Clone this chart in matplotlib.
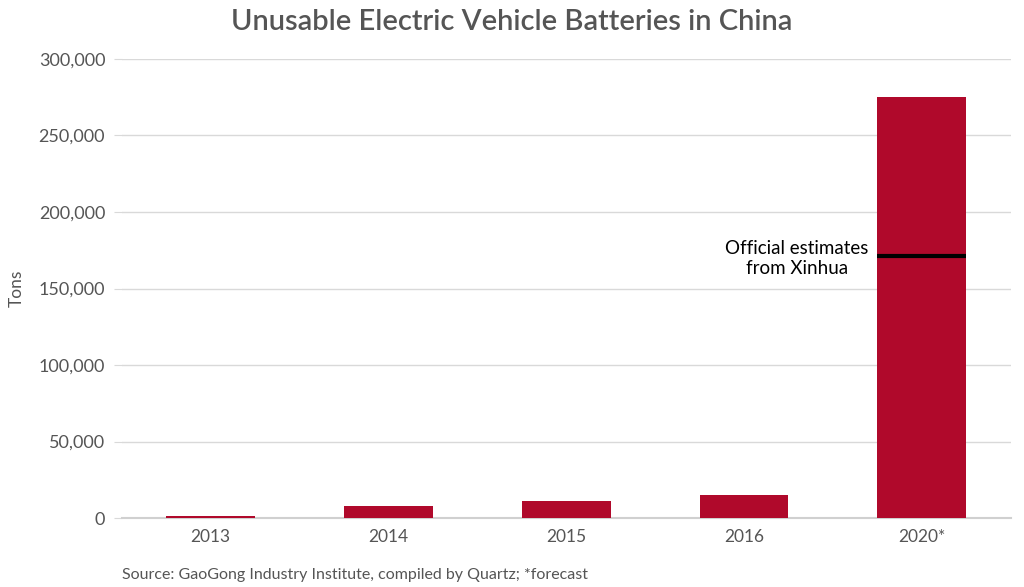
import matplotlib
matplotlib.use("Agg")
import matplotlib.pyplot as plt
from matplotlib.ticker import FuncFormatter

plt.rcParams['font.family'] = ['Lato', 'DejaVu Sans']

years = ['2013', '2014', '2015', '2016', '2020*']
tons = [1300, 7700, 11000, 15000, 275000]
official_2020 = 171000

fig = plt.figure(figsize=(10.24, 5.87), dpi=100)
ax = fig.add_axes([0.119, 0.1175, 0.868, 0.782])

x = range(len(years))
ax.bar(x, tons, width=0.5, color='#b0092b', zorder=3)
ax.hlines(official_2020, 4 - 0.25, 4 + 0.25, color='black', lw=3, zorder=4)
ax.text(4 - 0.3, official_2020 - 1500, 'Official estimates\nfrom Xinhua', ha='right', va='center',
        multialignment='center', fontsize=13.5, color='black', linespacing=1.2)

ax.set_xlim(-0.5, 4.5)
ax.set_ylim(0, 300000)
ax.set_yticks(range(0, 300001, 50000))
ax.yaxis.set_major_formatter(FuncFormatter(lambda v, p: f'{int(v):,}'))
ax.set_xticks(list(x))
ax.set_xticklabels(years)
ax.grid(axis='y', color='#d9d9d9', lw=1, zorder=0)
for s in ['top', 'right', 'left']:
    ax.spines[s].set_visible(False)
ax.spines['bottom'].set_color('#d0d0d0')
ax.spines['bottom'].set_linewidth(1.5)
ax.tick_params(axis='y', colors='#d9d9d9', labelcolor='#555555', labelsize=13, length=6, pad=6)
ax.tick_params(axis='x', length=0, labelcolor='#555555', labelsize=12.5, pad=8)
ax.set_ylabel('Tons', fontsize=12.5, color='#555555', labelpad=10)

fig.text(0.5, 0.963, 'Unusable Electric Vehicle Batteries in China', ha='center', va='center',
         fontsize=21, color='#555555', fontweight='semibold')
fig.text(0.119, 0.02, 'Source: GaoGong Industry Institute, compiled by Quartz; *forecast',
         ha='left', va='center', fontsize=11.5, color='#555555')

fig.savefig('out.png', dpi=100)
